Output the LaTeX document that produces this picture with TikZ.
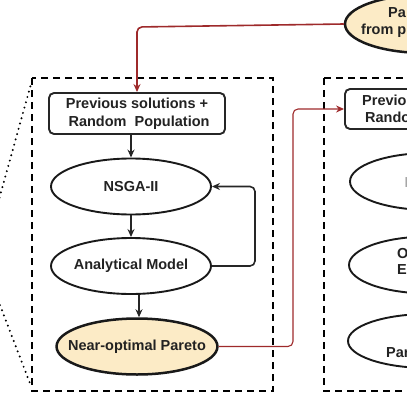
\documentclass[tikz,border=0pt]{standalone}
\usepackage{fontspec}
\setmainfont{Liberation Sans}
\usetikzlibrary{arrows.meta,shapes.geometric}
\definecolor{beige}{HTML}{FCEBC6}
\definecolor{darkred}{HTML}{9E2A2B}
\definecolor{txt}{HTML}{222222}
\tikzset{
  lbl/.style={font=\fontsize{14.5}{17.5}\selectfont\bfseries, text=txt},
  ell/.style={ellipse, draw=black!90, line width=1.9pt, minimum width=160pt, minimum height=56pt, inner sep=0pt, lbl, align=center},
  ellhl/.style={ell, fill=beige, line width=2.5pt},
  boxnode/.style={rectangle, rounded corners=5pt, draw=black!85, line width=1.9pt, inner sep=0pt, lbl, align=center},
  groupbox/.style={draw=black, line width=2.1pt, dash pattern=on 7pt off 5pt},
  arr/.style={-{Stealth[length=8pt,width=7pt]}, line width=1.6pt, draw=black!85},
  redarr/.style={-{Stealth[length=8pt,width=7pt]}, draw=darkred, line width=1.6pt, rounded corners=5pt},
  dots/.style={draw=black, line width=2.2pt, line cap=round, dash pattern=on 0pt off 5.5pt},
  frag/.style={lbl, anchor=base west, inner sep=0pt}
}
\begin{document}
\begin{tikzpicture}[x=1pt,y=-1pt]
\useasboundingbox (0,0) rectangle (407,407);
\clip (0,0) rectangle (407,407);
% group boxes
\draw[groupbox] (32,78) rectangle (273,391);
\draw[groupbox] (324,78) -- (324,391) -- (420,391);
\draw[groupbox] (324,78) -- (420,78);
% dotted zoom lines
\coordinate (d1) at (-2,203);
\coordinate (d2) at (-2,300);
\coordinate (c1) at (31,84);
\coordinate (c2) at (31,386);
\draw[dots] (d1) -- (c1);
\draw[dots] (d2) -- (c2);
% left column
\node[boxnode, minimum width=176pt, minimum height=41pt] (prev) at (137,113.5) {Previous solutions +\\\ Random\ \ Population};
\node[ell] (nsga) at (131,186.5) {NSGA-II};
\node[ell, inner xsep=-2pt] (anal) at (131,266) {Analytical Model};
\node[ellhl, inner xsep=-12pt] (near) at (137,346.5) {Near-optimal Pareto};
% right column (cut off)
\node[ellhl, minimum height=58pt] (topp) at (425,24) {};
\node[boxnode, minimum width=176pt, minimum height=40pt] (prev2) at (433,109) {};
\node[ell, minimum height=57pt] (r1) at (430,181.5) {};
\node[ell, minimum height=57pt] (r2) at (429,265) {};
\node[ell, minimum height=54pt] (r3) at (428,341) {};
\node[frag] (f1) at (388,17) {Pa};
\node[frag] (f2) at (361,34) {from p};
\node[frag] (f3) at (362,105.5) {Previo};
\node[frag] (f4) at (365,122.5) {Rando};
\node[frag, text=black!35] (f5) at (404.5,187) {N};
\node[frag] (f6) at (397,258) {O};
\node[frag] (f7) at (397,274) {E};
\node[frag] (f8) at (386,357) {Par};
% connectors
\draw[arr] (prev.south -| nsga.north) -- (nsga.north);
\draw[arr] (nsga.south) -- (anal.north);
\draw[arr] (anal.south -| 139,0) -- (near.north -| 139,0);
\draw[arr, rounded corners=5pt] (anal.east) -- (255,266) -- (255,186.5) -- (nsga.east);
\draw[redarr] (topp.west) -- (137,27) -- (prev.north -| 137,0);
\draw[redarr, line width=1.1pt] (near.east) -- (293,346.5) -- (293,109) -- (prev2.west);
\end{tikzpicture}
\end{document}
